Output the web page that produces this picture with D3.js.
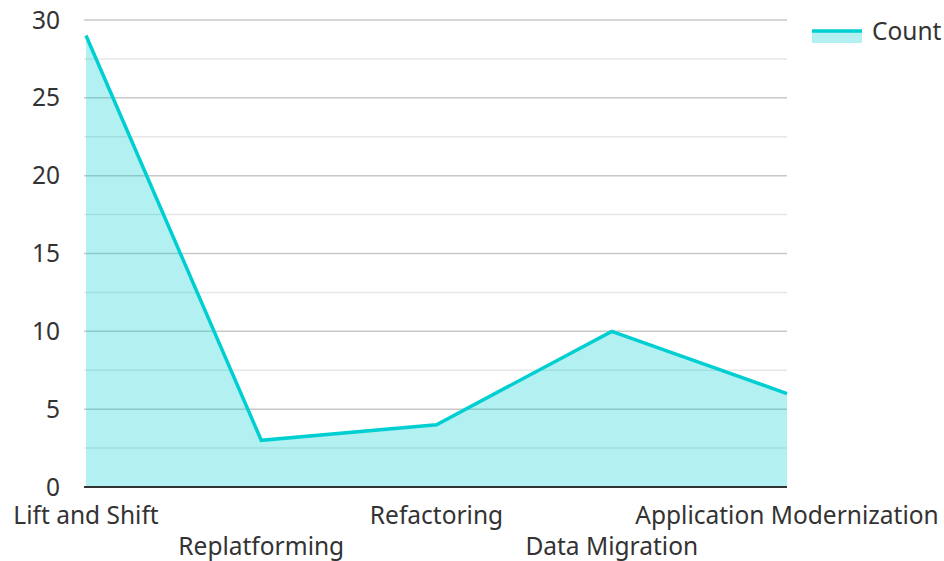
<!DOCTYPE html>
<html>
<head>
<meta charset="utf-8">
<script src="https://cdn.jsdelivr.net/npm/d3@7"></script>
<style>
  body { margin: 0; background: #fff; }
  text { font-family: "Noto Sans", "Open Sans", sans-serif; fill: #333; }
</style>
</head>
<body>
<svg id="chart" width="944" height="561"></svg>
<script>
// data
var categories = ["Lift and Shift", "Replatforming", "Refactoring", "Data Migration", "Application Modernization"];
var counts = [29, 3, 4, 10, 6];
var yTicks = [0, 5, 10, 15, 20, 25, 30];
var minorTicks = [2.5, 7.5, 12.5, 17.5, 22.5, 27.5];
var seriesName = "Count";

var lineColor = "#00cfd1";
var fillColor = "rgba(0,206,209,0.3)";
var fontSize = "24.5px";

var margin = {left: 86, right: 157, top: 20, bottom: 74};
var width = 944, height = 561;

var svg = d3.select("#chart");

var x = d3.scalePoint()
    .domain(categories)
    .range([margin.left, width - margin.right]);

var y = d3.scaleLinear()
    .domain([0, 30])
    .range([height - margin.bottom, margin.top]);

// minor grid
svg.append("g")
    .selectAll("line")
    .data(minorTicks)
    .join("line")
    .attr("x1", margin.left - 2)
    .attr("x2", width - margin.right)
    .attr("y1", d => y(d))
    .attr("y2", d => y(d))
    .attr("stroke", "#e6e6e6")
    .attr("stroke-width", 1.5);

// major grid
svg.append("g")
    .selectAll("line")
    .data(yTicks.filter(d => d > 0))
    .join("line")
    .attr("x1", margin.left - 2)
    .attr("x2", width - margin.right)
    .attr("y1", d => y(d))
    .attr("y2", d => y(d))
    .attr("stroke", "#c8c8c8")
    .attr("stroke-width", 1.5);

var pts = categories.map((c, i) => ({c: c, v: counts[i]}));

var area = d3.area()
    .x(d => x(d.c))
    .y0(y(0))
    .y1(d => y(d.v));

var line = d3.line()
    .x(d => x(d.c))
    .y(d => y(d.v));

svg.append("path")
    .datum(pts)
    .attr("d", area)
    .attr("fill", fillColor);

svg.append("path")
    .datum(pts)
    .attr("d", line)
    .attr("fill", "none")
    .attr("stroke", lineColor)
    .attr("stroke-width", 3.5)
    .attr("stroke-linejoin", "miter");

// baseline
svg.append("line")
    .attr("x1", margin.left - 2)
    .attr("x2", width - margin.right)
    .attr("y1", y(0))
    .attr("y2", y(0))
    .attr("stroke", "#333")
    .attr("stroke-width", 2);

// y labels
svg.append("g")
    .selectAll("text")
    .data(yTicks)
    .join("text")
    .attr("x", 60)
    .attr("y", d => y(d))
    .attr("dy", "0.35em")
    .attr("text-anchor", "end")
    .style("font-size", fontSize)
    .text(d => d);

// x labels, staggered
svg.append("g")
    .selectAll("text")
    .data(categories)
    .join("text")
    .attr("x", d => x(d))
    .attr("y", (d, i) => i % 2 === 0 ? 524 : 555)
    .attr("text-anchor", "middle")
    .style("font-size", fontSize)
    .text(d => d);

// legend
var lg = svg.append("g").attr("transform", "translate(812,0)");
lg.append("rect")
    .attr("x", 0).attr("y", 31)
    .attr("width", 50).attr("height", 12)
    .attr("fill", fillColor);
lg.append("line")
    .attr("x1", 0).attr("x2", 50)
    .attr("y1", 31).attr("y2", 31)
    .attr("stroke", lineColor)
    .attr("stroke-width", 3.5);
lg.append("text")
    .attr("x", 60)
    .attr("y", 31)
    .attr("dy", "0.35em")
    .style("font-size", fontSize)
    .text(seriesName);
</script>
</body>
</html>
